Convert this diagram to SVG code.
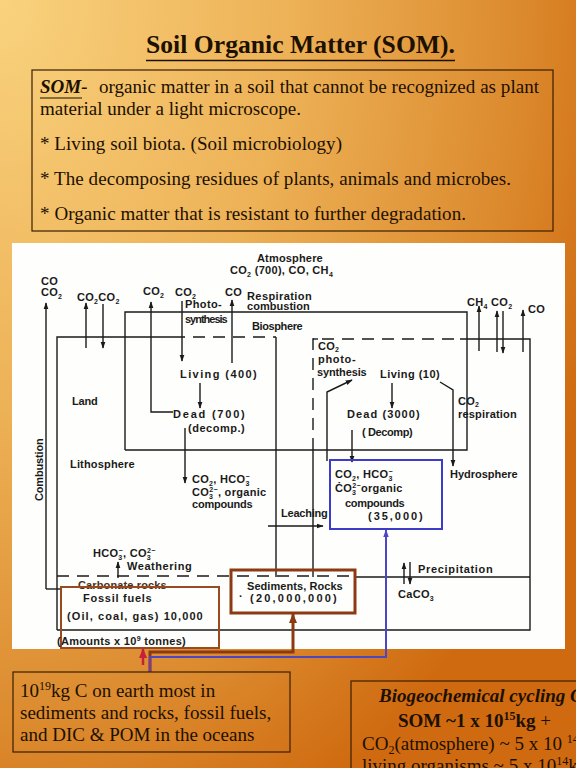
<svg xmlns="http://www.w3.org/2000/svg" width="576" height="768" viewBox="0 0 576 768">
<defs>
<radialGradient id="bg" gradientUnits="userSpaceOnUse" cx="0" cy="0" r="650" gradientTransform="scale(1,1.4)">
<stop offset="0" stop-color="#F9D27E"/>
<stop offset="0.45" stop-color="#EDB156"/>
<stop offset="0.8" stop-color="#DC8A2E"/>
<stop offset="1" stop-color="#CF6A10"/>
</radialGradient>
<marker id="ah" viewBox="0 0 10 10" refX="9" refY="5" markerWidth="7" markerHeight="7" markerUnits="userSpaceOnUse" orient="auto"><path d="M0,1.5 L10,5 L0,8.5 z" fill="#1a1a1a"/></marker>
<marker id="ahBrown" viewBox="0 0 10 10" refX="9" refY="5" markerWidth="10" markerHeight="10" markerUnits="userSpaceOnUse" orient="auto"><path d="M0,1 L10,5 L0,9 z" fill="#8B3A12"/></marker>
<marker id="ahBlue" viewBox="0 0 10 10" refX="9" refY="5" markerWidth="8" markerHeight="8" markerUnits="userSpaceOnUse" orient="auto"><path d="M0,1.5 L10,5 L0,8.5 z" fill="#4B47C2"/></marker>
<marker id="ahRed" viewBox="0 0 10 10" refX="9" refY="5" markerWidth="10" markerHeight="10" markerUnits="userSpaceOnUse" orient="auto"><path d="M0,1 L10,5 L0,9 z" fill="#C8203A"/></marker>
<style>
.t{font-family:"Liberation Serif","Times New Roman",serif;fill:#1c1000}
.d{font-family:"Liberation Sans",Arial,sans-serif;font-weight:bold;font-size:11px;fill:#1a1a1a;letter-spacing:0.3px}
.s{font-size:7px}
.ln{fill:none;stroke:#1a1a1a;stroke-width:1.4}
.dash{stroke-dasharray:12 8}
.ar{marker-end:url(#ah)}
.box{fill:none}
</style>
</defs>

<rect x="0" y="0" width="576" height="768" fill="url(#bg)"/>

<g id="title">
<text class="t" x="146" y="53" font-size="25.6" font-weight="bold" textLength="309">Soil Organic Matter (SOM).</text>
<line x1="146" y1="60.5" x2="455" y2="60.5" stroke="#1c1000" stroke-width="1.5"/>
</g>

<g id="definition">
<rect class="box" x="32" y="70" width="521" height="161" stroke="#3A1E05" stroke-width="1.2"/>
<text class="t" x="40" y="93" font-size="19" font-weight="bold" font-style="italic">SOM-</text>
<line x1="40" y1="98" x2="82" y2="98" stroke="#1c1000" stroke-width="1.2"/>
<text class="t" x="99" y="93" font-size="19" textLength="440">organic matter in a soil that cannot be recognized as plant</text>
<text class="t" x="40" y="115" font-size="19" textLength="261">material under a light microscope.</text>
<text class="t" x="40" y="150" font-size="19" textLength="302">* Living soil biota. (Soil microbiology)</text>
<text class="t" x="40" y="185" font-size="19" textLength="471">* The decomposing residues of plants, animals and microbes.</text>
<text class="t" x="40" y="220" font-size="19" textLength="426">* Organic matter that is resistant to further degradation.</text>
</g>

<rect id="diagram-panel" x="12" y="243" width="553" height="406" fill="#FEFEFC"/>

<g id="connectors">
<path class="ln" d="M57,630 V337 H173"/>
<path class="ln dash" d="M173,337 H276"/>
<path class="ln" d="M276,337 V577"/>
<path class="ln" d="M125,450 V312 H467 V450 H125"/>
<path class="ln dash" d="M313,450 V339 H460"/>
<path class="ln" d="M313,339 H318"/>
<path class="ln" d="M460,339 H530 V630 H57"/>
<path class="ln" d="M313,450 V577"/>
<path class="ln dash" d="M57,576 H355"/>
<path class="ln" d="M355,577 H530"/>
<path class="ln" d="M60,589 H46"/>
<path class="ln ar" d="M46,589 V303"/>
<path class="ln ar" d="M86,348 V303"/>
<path class="ln ar" d="M103,304 V348"/>
<path class="ln ar" d="M173,412 H151 V302"/>
<path class="ln ar" d="M182,301 V361"/>
<path class="ln ar" d="M232,363 V300"/>
<path class="ln ar" d="M200,383 V408"/>
<path class="ln ar" d="M185,428 V483"/>
<path class="ln ar" d="M268,526 H323"/>
<path class="ln ar" d="M118,578 V562"/>
<path class="ln ar" d="M479,351 V306"/>
<path class="ln ar" d="M497,352 V311"/>
<path class="ln ar" d="M503,311 V353"/>
<path class="ln ar" d="M523,352 V310"/>
<path class="ln ar" d="M327,461 V392 L352,380"/>
<path class="ln ar" d="M440,382 L453,390 V466"/>
<path class="ln ar" d="M392,383 V408"/>
<path class="ln ar" d="M352,430 V462"/>
<path class="ln ar" d="M404,584 V563"/>
<path class="ln ar" d="M410,562 V584"/>
<path d="M150,672 V652 H293 V614" fill="none" stroke="#8B3A12" stroke-width="3" marker-end="url(#ahBrown)"/>
<path d="M150,672 V657 H386 V530" fill="none" stroke="#4B47C2" stroke-width="2" marker-end="url(#ahBlue)"/>
<path d="M143,665 V649" fill="none" stroke="#C8203A" stroke-width="2.5" marker-end="url(#ahRed)"/>
<path d="M150,659 V672" fill="none" stroke="#7A3C9A" stroke-width="2.5"/>
</g>

<g id="atmosphere">
<text class="d" x="257" y="262" textLength="66">Atmosphere</text>
<text class="d" x="230" y="274">CO<tspan class="s" dy="2.5">2</tspan><tspan dy="-2.5"> (700), CO, CH</tspan><tspan class="s" dy="2.5">4</tspan></text>
<text class="d" x="41" y="285">CO</text>
<text class="d" x="41" y="296">CO<tspan class="s" dy="2.5">2</tspan></text>
<text class="d" x="77" y="301">CO<tspan class="s" dy="2.5">2</tspan><tspan dy="-2.5">CO</tspan><tspan class="s" dy="2.5">2</tspan></text>
<text class="d" x="143" y="295">CO<tspan class="s" dy="2.5">2</tspan></text>
<text class="d" x="175" y="296">CO<tspan class="s" dy="2.5">2</tspan></text>
<text class="d" x="225" y="296">CO</text>
<text class="d" x="467" y="306">CH<tspan class="s" dy="2.5">4</tspan><tspan dy="-2.5"> CO</tspan><tspan class="s" dy="2.5">2</tspan></text>
<text class="d" x="528" y="313">CO</text>
<text class="d" x="185" y="308" textLength="37">Photo-</text>
<text class="d" x="185" y="323" font-size="10" textLength="43">synthesis</text>
<text class="d" x="247" y="299.5" font-size="10.5" textLength="65">Respiration</text>
<text class="d" x="247" y="310" font-size="10.5" textLength="63">combustion</text>
<text class="d" transform="translate(43,501) rotate(-90)" textLength="63">Combustion</text>
</g>

<g id="biosphere-land">
<text class="d" x="252" y="330" textLength="51">Biosphere</text>
<text class="d" x="180" y="378" textLength="77">Living (400)</text>
<text class="d" x="173" y="418" textLength="72">Dead (700)</text>
<text class="d" x="188" y="432" textLength="57">(decomp.)</text>
</g>

<g id="land">
<text class="d" x="72" y="405" textLength="26">Land</text>
<text class="d" x="70" y="468" textLength="65">Lithosphere</text>
<text class="d" x="192" y="483">CO<tspan class="s" dy="2.5">2</tspan><tspan dy="-2.5">, HCO</tspan><tspan class="s" dy="2.5">3</tspan><tspan class="s" dx="-4" dy="-7">−</tspan></text>
<text class="d" x="192" y="496">CO<tspan class="s" dy="2.5">3</tspan><tspan class="s" dx="-4" dy="-7">2−</tspan><tspan dy="4.5">, organic</tspan></text>
<text class="d" x="192" y="508" textLength="61">compounds</text>
<text class="d" x="281" y="517" textLength="47">Leaching</text>
<text class="d" x="93" y="557">HCO<tspan class="s" dy="2.5">3</tspan><tspan class="s" dx="-4" dy="-7">−</tspan><tspan dy="4.5">, CO</tspan><tspan class="s" dy="2.5">3</tspan><tspan class="s" dx="-4" dy="-7">2−</tspan></text>
<text class="d" x="127" y="570" textLength="65">Weathering</text>
<text class="d" x="78" y="589" textLength="89" style="fill:#4a3020">Carbonate rocks</text>
</g>

<g id="fossil-fuels">
<rect class="box" x="61" y="587" width="158" height="61" stroke="#9A4A20" stroke-width="2"/>
<text class="d" x="83" y="602" textLength="69">Fossil fuels</text>
<text class="d" x="67" y="620" textLength="136">(Oil, coal, gas) 10,000</text>
<text class="d" x="57" y="645">(Amounts x 10<tspan class="s" dy="-4">9</tspan><tspan dy="4"> tonnes)</tspan></text>
</g>

<g id="sediments">
<rect class="box" x="231" y="570" width="124" height="43" stroke="#8B3A12" stroke-width="3"/>
<text class="d" x="247" y="590" textLength="96">Sediments, Rocks</text>
<text class="d" x="239" y="600">·</text>
<text class="d" x="250" y="602" textLength="87">(20,000,000)</text>
</g>

<g id="ocean">
<text class="d" x="318" y="350">CO<tspan class="s" dy="2">2</tspan></text>
<text class="d" x="318" y="362.5" textLength="38">photo-</text>
<text class="d" x="317" y="376" textLength="50">synthesis</text>
<text class="d" x="380" y="378" textLength="60">Living (10)</text>
<text class="d" x="347" y="418" textLength="73">Dead (3000)</text>
<text class="d" x="362" y="436" textLength="51">( Decomp)</text>
<text class="d" x="458" y="405">CO<tspan class="s" dy="2">2</tspan></text>
<text class="d" x="458" y="418" textLength="59">respiration</text>
<text class="d" x="450" y="478" textLength="68">Hydrosphere</text>
<text class="d" x="418" y="573" textLength="75">Precipitation</text>
<text class="d" x="398" y="598">CaCO<tspan class="s" dy="2.5">3</tspan></text>
</g>

<g id="dissolved-carbon">
<rect class="box" x="330" y="460" width="112" height="69" stroke="#3C3CC8" stroke-width="2"/>
<text class="d" x="335" y="478">CO<tspan class="s" dy="2.5">2</tspan><tspan dy="-2.5">, HCO</tspan><tspan class="s" dy="2.5">3</tspan><tspan class="s" dx="-4" dy="-7">−</tspan></text>
<text class="d" x="335" y="492">ĊO<tspan class="s" dy="2.5">3</tspan><tspan class="s" dx="-4" dy="-7">2−</tspan><tspan dy="4.5">organic</tspan></text>
<text class="d" x="345" y="507" textLength="60">compounds</text>
<text class="d" x="368" y="520" textLength="55">(35,000)</text>
</g>

<g id="note-earth-carbon">
<rect class="box" x="13" y="672" width="277" height="80" stroke="#3A1E05" stroke-width="1.2"/>
<text class="t" x="20" y="697" font-size="19">10<tspan font-size="12" dy="-7">19</tspan><tspan dy="7">kg C on earth most in</tspan></text>
<text class="t" x="20" y="719" font-size="19">sediments and rocks, fossil fuels,</text>
<text class="t" x="20" y="741" font-size="19">and DIC &amp; POM in the oceans</text>
</g>

<g id="note-cycling">
<rect class="box" x="351" y="681" width="240" height="100" stroke="#3A1E05" stroke-width="1.2"/>
<text class="t" x="379" y="702" font-size="19" font-weight="bold" font-style="italic">Biogeochemical cycling C</text>
<text class="t" x="398" y="727" font-size="19"><tspan font-weight="bold">SOM ~1 x 10<tspan font-size="12" dy="-7">15</tspan><tspan dy="7">kg</tspan></tspan> +</text>
<text class="t" x="362" y="750" font-size="19">CO<tspan font-size="12" dy="4">2</tspan><tspan dy="-4">(atmosphere) ~ 5 x 10 </tspan><tspan font-size="12" dy="-7">14</tspan></text>
<text class="t" x="362" y="772" font-size="19">living organisms ~ 5 x 10<tspan font-size="12" dy="-7">14</tspan><tspan dy="7">kg</tspan></text>
</g>
</svg>
